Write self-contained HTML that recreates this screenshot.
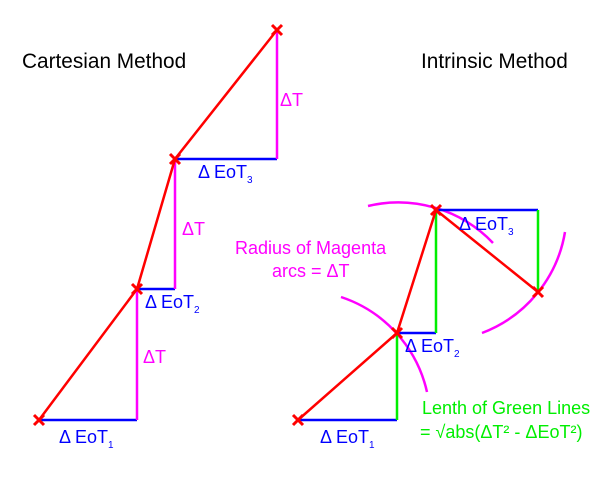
<!DOCTYPE html>
<html><head><meta charset="utf-8"><style>body{margin:0;background:#fff}svg{display:block}text{font-family:"Liberation Sans",Helvetica,Arial,sans-serif}</style></head><body>
<svg width="600" height="489" viewBox="0 0 600 489" xmlns="http://www.w3.org/2000/svg">
<rect width="600" height="489" fill="#fff"/>
<text x="22" y="68" font-size="20.8" fill="#000">Cartesian Method</text>
<text x="421" y="68" font-size="20.8" fill="#000">Intrinsic Method</text>
<g stroke-width="2.5" fill="none">
<path d="M39 420H137M137 289H175M175 159H277" stroke="#0000ff"/>
<path d="M137 420V289M175 289V159M277 159V30" stroke="#ff00ff"/>
<path d="M39 420L137 289L175 159L277 30" stroke="#ff0000"/>
<path d="M341 297A130 130 0 0 1 427 392M368 206A131 131 0 0 1 493 243M565 232A131 131 0 0 1 482 333" stroke="#ff00ff"/>
<path d="M298 420H397M397 333H436M436 210H538" stroke="#0000ff"/>
<path d="M397 420V333M436 333V210M538 210V292" stroke="#00ee00"/>
<path d="M298 420L397 333L436 210L538 292" stroke="#ff0000"/>
</g>
<g stroke="#ff0000" stroke-width="3">
<path d="M34 415l10 10M44 415l-10 10M132 284l10 10M142 284l-10 10M170 154l10 10M180 154l-10 10M272 25l10 10M282 25l-10 10"/>
<path d="M293 415l10 10M303 415l-10 10M392 328l10 10M402 328l-10 10M431 205l10 10M441 205l-10 10M533 287l10 10M543 287l-10 10"/>
</g>
<g font-size="18" fill="#ff00ff">
<text x="280" y="106">ΔT</text>
<text x="182" y="235">ΔT</text>
<text x="143" y="363">ΔT</text>
<text x="235" y="254">Radius of Magenta</text>
<text x="272" y="277">arcs = ΔT</text>
</g>
<g font-size="18" fill="#0000ff">
<text x="59" y="443">Δ EoT<tspan font-size="10" dy="5">1</tspan></text>
<text x="145" y="308">Δ EoT<tspan font-size="10" dy="5">2</tspan></text>
<text x="198" y="178">Δ EoT<tspan font-size="10" dy="5">3</tspan></text>
<text x="320" y="443">Δ EoT<tspan font-size="10" dy="5">1</tspan></text>
<text x="405" y="352">Δ EoT<tspan font-size="10" dy="5">2</tspan></text>
<text x="459" y="230">Δ EoT<tspan font-size="10" dy="5">3</tspan></text>
</g>
<g font-size="18" fill="#00ee00">
<text x="422" y="414">Lenth of Green Lines</text>
<text x="420" y="438">= √abs(ΔT² - ΔEoT²)</text>
</g>
</svg>
</body></html>
